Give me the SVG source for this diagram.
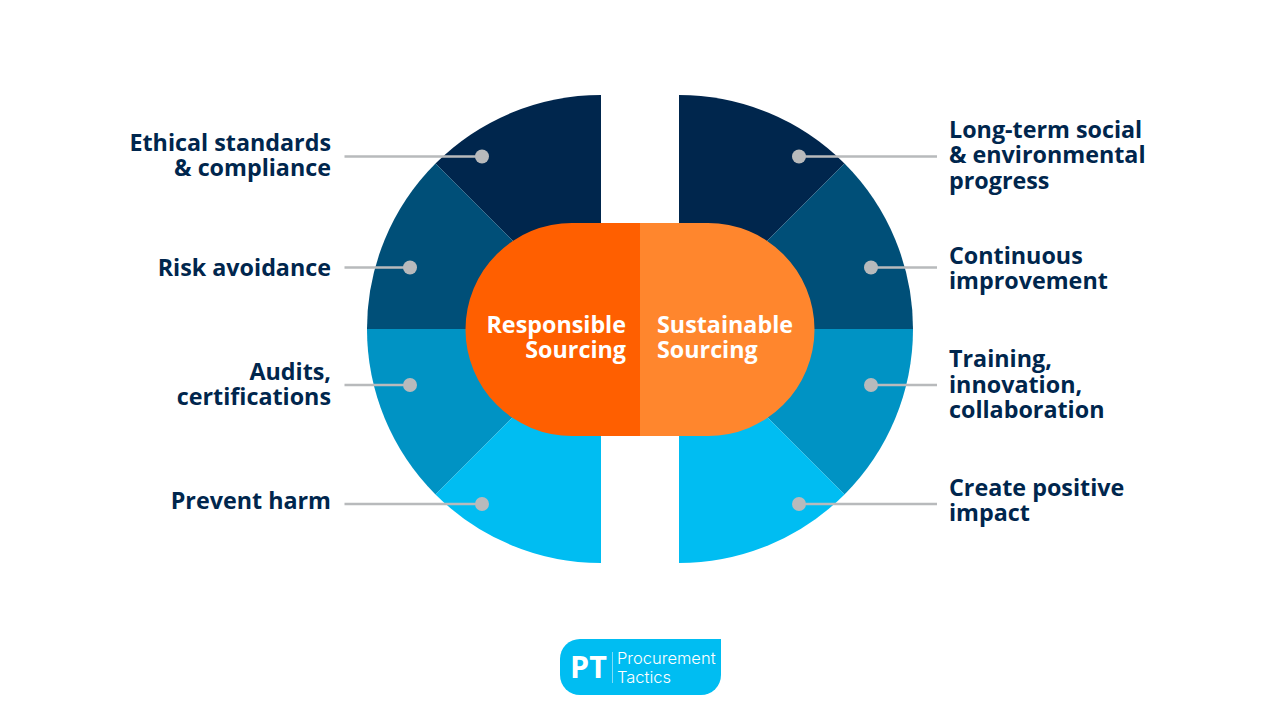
<svg xmlns="http://www.w3.org/2000/svg" width="1280" height="720" viewBox="0 0 1280 720">
<style>
.t{font-family:"Open Sans","Noto Sans",sans-serif;font-weight:700;font-size:23.3px;fill:#00264d}
.c{font-family:"Open Sans","Noto Sans",sans-serif;font-weight:700;font-size:23.3px;fill:#fff}
.e{text-anchor:end}
.l{stroke:#b8babc;stroke-width:2.5;fill:none}
.d{fill:#b8babc}
.s1{fill:#00264d}.s2{fill:#004f78}.s3{fill:#0093c4}.s4{fill:#00bdf2}
.g{font-family:"Inter","Open Sans",sans-serif;font-weight:300;font-size:16.5px;fill:#fff}
</style>
<rect width="1280" height="720" fill="#fff"/>
<g id="segments">
<path class="s1" d="M601 95V329L435.500 163.500A234 234 0 0 1 601 95Z"/>
<path class="s2" d="M435.500 163.500L601 329H367A234 234 0 0 1 435.500 163.500Z"/>
<path class="s3" d="M367 329H601L435.500 494.500A234 234 0 0 1 367 329Z"/>
<path class="s4" d="M435.500 494.500L601 329V563A234 234 0 0 1 435.500 494.500Z"/>
<path class="s1" d="M679 95V329L844.500 163.500A234 234 0 0 0 679 95Z"/>
<path class="s2" d="M844.500 163.500L679 329H913A234 234 0 0 0 844.500 163.500Z"/>
<path class="s3" d="M913 329H679L844.500 494.500A234 234 0 0 0 913 329Z"/>
<path class="s4" d="M844.500 494.500L679 329V563A234 234 0 0 0 844.500 494.500Z"/>
</g>
<g id="center">
<path fill="#ff5f00" d="M640 223H572A106.500 106.500 0 0 0 572 436H640Z"/>
<path fill="#ff862d" d="M640 223H708A106.500 106.500 0 0 1 708 436H640Z"/>
<text class="c" text-anchor="end" x="626" y="333">Responsible</text>
<text class="c" text-anchor="end" x="626" y="358">Sourcing</text>
<text class="c" x="657" y="333">Sustainable</text>
<text class="c" x="657" y="358">Sourcing</text>
</g>
<g id="connectors">
<path class="l" d="M344.500 156.500H482M344.500 267.500H410M344.500 385H410M344.500 504H482M799 156.500H937M871 267.500H937M871 385H937M799 504H937"/>
<circle class="d" cx="482" cy="156.500" r="7"/><circle class="d" cx="410" cy="267.500" r="7"/><circle class="d" cx="410" cy="385" r="7"/><circle class="d" cx="482" cy="504" r="7"/>
<circle class="d" cx="799" cy="156.500" r="7"/><circle class="d" cx="871" cy="267.500" r="7"/><circle class="d" cx="871" cy="385" r="7"/><circle class="d" cx="799" cy="504" r="7"/>
</g>
<g id="left-labels">
<text class="t e" x="331" y="150.500">Ethical standards</text><text class="t e" x="331" y="176">&amp; compliance</text>
<text class="t e" x="331" y="276">Risk avoidance</text>
<text class="t e" x="331" y="380">Audits,</text><text class="t e" x="331" y="405">certifications</text>
<text class="t e" x="331" y="509">Prevent harm</text>
</g>
<g id="right-labels">
<text class="t" x="949" y="138">Long-term social</text><text class="t" x="949" y="163">&amp; environmental</text><text class="t" x="949" y="189">progress</text>
<text class="t" x="949" y="264">Continuous</text><text class="t" x="949" y="289">improvement</text>
<text class="t" x="949" y="367">Training,</text><text class="t" x="949" y="392.500">innovation,</text><text class="t" x="949" y="418">collaboration</text>
<text class="t" x="949" y="496">Create positive</text><text class="t" x="949" y="521">impact</text>
</g>
<g id="logo">
<path d="M580 639H721V675A20 20 0 0 1 701 695H580A20 20 0 0 1 560 675V659A20 20 0 0 1 580 639Z" fill="#00bdf2"/>
<text x="570" y="678" font-family="'Open Sans',sans-serif" font-weight="700" font-size="30.5" fill="#fff">PT</text>
<path d="M612.500 652V683" stroke="#7fdcf7" stroke-width="1"/>
<text class="g" x="617" y="664">Procurement</text>
<text class="g" x="617" y="683">Tactics</text>
</g>
</svg>
